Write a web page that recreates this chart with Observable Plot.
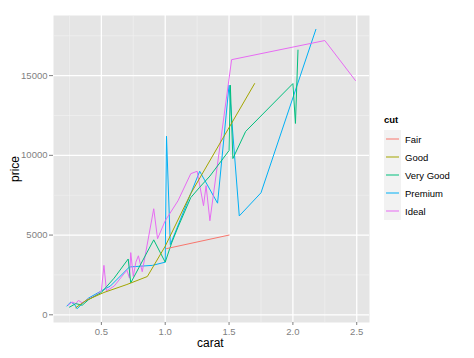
<!DOCTYPE html>
<html>
<head>
<meta charset="utf-8">
<script src="https://cdn.jsdelivr.net/npm/d3@7"></script>
<script src="https://cdn.jsdelivr.net/npm/@observablehq/plot@0.6"></script>
<style>
  html, body { margin: 0; padding: 0; background: #fff; }
  #wrap { position: relative; width: 474px; height: 358px; font-family: "Liberation Sans", Arial, sans-serif; }
  .lab { position: absolute; color: #000; font-size: 12px; }
  #legend { position: absolute; left: 384px; top: 114px; font-size: 9.5px; color: #000; }
  #legend .title { font-weight: bold; font-size: 9.5px; margin-bottom: 5px; }
  #legend .row { display: flex; align-items: center; height: 18px; }
  #legend svg { display: block; margin-right: 4px; }
</style>
</head>
<body>
<div id="wrap"></div>
<script>
const cuts = ["Fair", "Good", "Very Good", "Premium", "Ideal"];
const colors = ["#F8766D", "#A3A500", "#00BF7D", "#00B0F6", "#E76BF3"];

const fairCarat = [1.01, 1.5];
const fairPrice = [4150, 5000];

const goodCarat = [0.3, 0.38, 0.52, 0.7, 0.86, 1.0, 1.2, 1.7];
const goodPrice = [450, 900, 1400, 1900, 2400, 4300, 7600, 14500];

const vgCarat = [0.25, 0.3, 0.35, 0.4, 0.5, 0.6, 0.71, 0.73, 0.91, 1.0, 1.05, 1.1, 1.2, 1.27, 1.35, 1.5, 1.51, 1.53, 1.63, 2.0, 2.02, 2.04];
const vgPrice = [480, 700, 600, 950, 1400, 2300, 3500, 2000, 4700, 3300, 4500, 5500, 7350, 8000, 8700, 10300, 14400, 9800, 11500, 14500, 12000, 16600];

const premCarat = [0.23, 0.26, 0.29, 0.31, 0.35, 0.4, 0.5, 0.57, 0.72, 0.9, 1.0, 1.01, 1.04, 1.27, 1.41, 1.5, 1.58, 1.75, 2.18];
const premPrice = [550, 800, 650, 380, 700, 1050, 1500, 1800, 3000, 3100, 3300, 11200, 4400, 9000, 7000, 14400, 6200, 7650, 17900];

const idealCarat = [0.24, 0.27, 0.3, 0.32, 0.35, 0.4, 0.45, 0.5, 0.52, 0.54, 0.6, 0.7, 0.72, 0.73, 0.75, 0.77, 0.79, 0.82, 0.91, 0.94, 1.0, 1.1, 1.2, 1.25, 1.3, 1.32, 1.35, 1.52, 2.25, 2.49];
const idealPrice = [600, 800, 700, 900, 750, 1000, 1200, 1500, 3100, 1500, 1800, 2800, 2300, 3900, 2400, 3300, 3700, 2700, 6650, 4770, 5900, 7150, 8850, 9000, 6840, 8100, 5900, 16000, 17200, 14690];

const xTicks = [0.5, 1.0, 1.5, 2.0, 2.5];
const xMinor = [0.25, 0.75, 1.25, 1.75, 2.25];
const yTicks = [0, 5000, 10000, 15000];
const yMinor = [2500, 7500, 12500, 17500];

const series = [
  [fairCarat, fairPrice], [goodCarat, goodPrice], [vgCarat, vgPrice],
  [premCarat, premPrice], [idealCarat, idealPrice]
];
const rows = [];
series.forEach(([cs, ps], i) => cs.forEach((c, j) => rows.push({cut: cuts[i], carat: c, price: ps[j]})));

const chart = Plot.plot({
  width: 474,
  height: 358,
  marginLeft: 53,
  marginRight: 105,
  marginTop: 15,
  marginBottom: 36,
  style: {fontFamily: "Liberation Sans, Arial, sans-serif", fontSize: "9.5px", background: "transparent"},
  x: {domain: [0.125, 2.6], label: null},
  y: {domain: [-483, 18770], label: null},
  color: {domain: cuts, range: colors},
  marks: [
    Plot.frame({fill: "#E5E5E5", stroke: null}),
    Plot.gridX(xMinor, {stroke: "#F2F2F2", strokeOpacity: 1, strokeWidth: 0.6}),
    Plot.gridY(yMinor, {stroke: "#F2F2F2", strokeOpacity: 1, strokeWidth: 0.6}),
    Plot.gridX(xTicks, {stroke: "#FFFFFF", strokeOpacity: 1, strokeWidth: 1.3}),
    Plot.gridY(yTicks, {stroke: "#FFFFFF", strokeOpacity: 1, strokeWidth: 1.3}),
    Plot.axisX(xTicks, {tickSize: 3, tickPadding: 3, color: "#7F7F7F", tickFormat: d3.format(".1f"), label: null}),
    Plot.axisY(yTicks, {tickSize: 4, tickPadding: 2, color: "#7F7F7F", tickFormat: d3.format("d"), label: null}),
    Plot.line(rows, {x: "carat", y: "price", z: "cut", stroke: "cut", strokeWidth: 1, sort: "carat"})
  ]
});

const wrap = document.getElementById("wrap");
wrap.appendChild(chart);

const xl = document.createElement("div");
xl.className = "lab";
xl.textContent = "carat";
xl.style.left = "197px"; xl.style.top = "336px";
wrap.appendChild(xl);

const yl = document.createElement("div");
yl.className = "lab";
yl.textContent = "price";
yl.style.left = "2px"; yl.style.top = "162px";
yl.style.transform = "rotate(-90deg)";
wrap.appendChild(yl);

const NS = "http://www.w3.org/2000/svg";
const lg = document.createElement("div");
lg.id = "legend";
const t = document.createElement("div");
t.className = "title"; t.textContent = "cut";
lg.appendChild(t);
cuts.forEach((c, i) => {
  const r = document.createElement("div"); r.className = "row";
  const svg = document.createElementNS(NS, "svg");
  svg.setAttribute("width", "17"); svg.setAttribute("height", "18");
  const rect = document.createElementNS(NS, "rect");
  rect.setAttribute("width", "17"); rect.setAttribute("height", "18"); rect.setAttribute("fill", "#F2F2F2");
  const ln = document.createElementNS(NS, "line");
  ln.setAttribute("x1", "2"); ln.setAttribute("x2", "15");
  ln.setAttribute("y1", "9"); ln.setAttribute("y2", "9");
  ln.setAttribute("stroke", colors[i]); ln.setAttribute("stroke-width", "1");
  svg.appendChild(rect); svg.appendChild(ln);
  r.appendChild(svg);
  const l = document.createElement("div"); l.textContent = c; r.appendChild(l);
  lg.appendChild(r);
});
wrap.appendChild(lg);
</script>
</body>
</html>
